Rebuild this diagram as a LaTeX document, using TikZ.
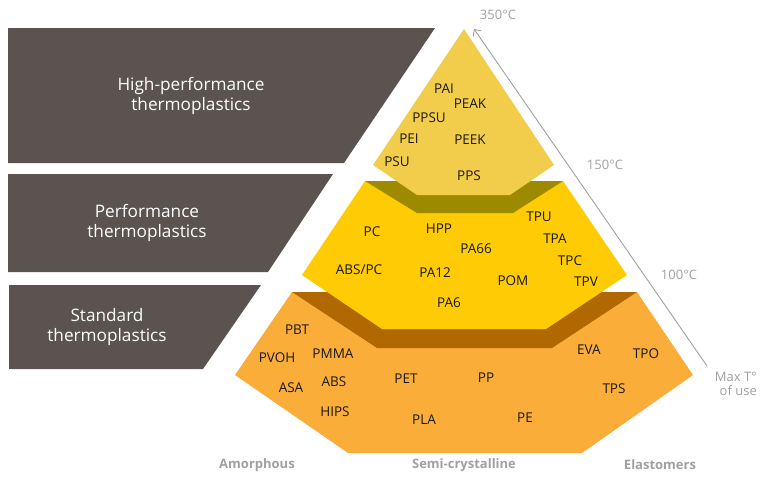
\documentclass[tikz,border=0pt]{standalone}
\usepackage{fontspec}
\setmainfont{Open Sans}
\usepackage{tikz}
\usetikzlibrary{arrows.meta}
\usepackage{xcolor}

\definecolor{panelgray}{HTML}{5A5350}
\definecolor{hpyellow}{HTML}{F2CD4C}
\definecolor{pyellow}{HTML}{FECB05}
\definecolor{oliveband}{HTML}{9D8A00}
\definecolor{stdorange}{HTML}{FBAD3A}
\definecolor{brownband}{HTML}{B26800}
\definecolor{labelgray}{HTML}{A0A0A0}

\begin{document}
\begin{tikzpicture}[
    x=1pt, y=-1pt,
    title/.style={font=\fontsize{17.2}{20}\selectfont, text=white, align=center, inner sep=0pt},
    mat/.style={font=\fontsize{13.5}{15}\selectfont, text=black!90, inner sep=0pt},
    temp/.style={font=\fontsize{13}{14.5}\selectfont, text=labelgray, inner sep=0pt},
    family/.style={font=\bfseries\fontsize{13}{15}\selectfont, text=labelgray, inner sep=0pt},
    >={Straight Barb[length=5pt,width=10pt]}
  ]
  \useasboundingbox (0,0) rectangle (768,480);

  % left panels
  \fill[panelgray] (8,28) -- (435,28) -- (344,163) -- (8,163) -- cycle;
  \fill[panelgray] (8,174) -- (333,174) -- (268,272) -- (8,272) -- cycle;
  \fill[panelgray] (9,285) -- (261,285) -- (203,369) -- (9,369) -- cycle;
  \node[title] (hpt) at (191,96) {High-performance\\thermoplastics};
  \node[title] (pt) at (147,223) {Performance\\thermoplastics};
  \node[title] (st) at (107,327) {Standard\\thermoplastics};

  % pyramid
  \fill[stdorange] (292,292) -- (637,292) -- (693,375) -- (582,453) -- (348,453) -- (235,375) -- cycle;
  \fill[brownband] (292,292) -- (377,348) -- (552,348) -- (637,292) -- cycle;
  \fill[pyellow] (365,181) -- (563,181) -- (627,275) -- (546,329) -- (382,329) -- (302,275) -- cycle;
  \fill[oliveband] (365,181) -- (417,213) -- (513,213) -- (563,181) -- cycle;
  \fill[hpyellow] (464,29) -- (554,165) -- (510,195) -- (417,195) -- (373,165) -- cycle;

  % temperature axis
  \coordinate (tbase) at (707,366);
  \coordinate (ttop) at (474,29);
  \draw[->, labelgray, line width=0.9pt] (tbase) -- (ttop);
  \node[temp] (t350) at (498,15) {350°C};
  \node[temp] (t150) at (605,165) {150°C};
  \node[temp] (t100) at (679,275) {100°C};
  \node[temp, align=right, anchor=east] (tmax) at (757,384) {Max T°\\of use};

  % high-performance
  \node[mat] (pai) at (444,89) {PAI};
  \node[mat] (peak) at (470,104) {PEAK};
  \node[mat] (ppsu) at (429,118) {PPSU};
  \node[mat] (pei) at (409,139) {PEI};
  \node[mat] (peek) at (470,140) {PEEK};
  \node[mat] (psu) at (397,162) {PSU};
  \node[mat] (pps) at (469,176) {PPS};

  % performance
  \node[mat] (pc) at (372,232) {PC};
  \node[mat] (hpp) at (439,229) {HPP};
  \node[mat] (pa66) at (476,249) {PA66};
  \node[mat] (tpu) at (539,217) {TPU};
  \node[mat] (tpa) at (555,239) {TPA};
  \node[mat] (tpc) at (570,261) {TPC};
  \node[mat] (tpv) at (586,282) {TPV};
  \node[mat] (abspc) at (359,270) {ABS/PC};
  \node[mat] (pa12) at (435,273) {PA12};
  \node[mat] (pom) at (513,281) {POM};
  \node[mat] (pa6) at (449,303) {PA6};

  % standard
  \node[mat] (pbt) at (297,330) {PBT};
  \node[mat] (pvoh) at (277,358) {PVOH};
  \node[mat] (pmma) at (333,354) {PMMA};
  \node[mat] (asa) at (291,388) {ASA};
  \node[mat] (abs) at (334,382) {ABS};
  \node[mat] (hips) at (335,412) {HIPS};
  \node[mat] (pet) at (406,379) {PET};
  \node[mat] (pp) at (486,378) {PP};
  \node[mat] (pla) at (424,420) {PLA};
  \node[mat] (pe) at (525,418) {PE};
  \node[mat] (eva) at (589,350) {EVA};
  \node[mat] (tpo) at (646,354) {TPO};
  \node[mat] (tps) at (614,389) {TPS};

  % families
  \node[family] (amorph) at (257,465) {Amorphous};
  \node[family] (semi) at (464,465) {Semi-crystalline};
  \node[family] (elast) at (660,465) {Elastomers};
\end{tikzpicture}
\end{document}
